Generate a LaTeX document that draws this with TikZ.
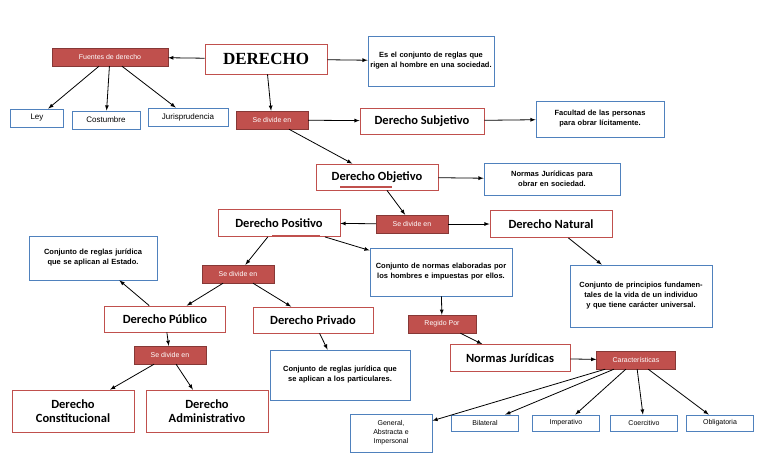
\documentclass[tikz,border=0pt]{standalone}
\usepackage{fontspec}
\setmainfont{Liberation Sans}
\newfontfamily\titlefont{Carlito}
\newfontfamily\serifbold{Liberation Serif}
\definecolor{boxred}{RGB}{192,80,77}
\definecolor{boxblue}{RGB}{79,129,189}
\tikzset{
	tag/.style={draw=boxred!70!black, fill=boxred, text=white, font=\fontsize{7}{8}\selectfont, inner sep=1pt, minimum height=18},
	title/.style={draw=boxred, thick, fill=white, font=\titlefont\bfseries\fontsize{12.5}{14}\selectfont, minimum height=26},
	note/.style={draw=boxblue, thick, fill=white, font=\fontsize{7.5}{10}\selectfont\bfseries, align=center, inner sep=2pt},
	leaf/.style={draw=boxblue, thick, fill=white, font=\fontsize{8}{9}\selectfont, minimum height=18},
	arr/.style={-latex, thick}
}
\begin{document}
\begin{tikzpicture}[x=1pt, y=-1pt]
	\useasboundingbox (0, 0) rectangle (768, 466);
	
	% top level
	\node[title, minimum width=122, minimum height=30, font=\serifbold\bfseries\fontsize{17}{18}\selectfont] (der) at (266, 59) {DERECHO};
	\node[tag, minimum width=116] (fuentes) at (110, 57) {Fuentes de derecho};
	\node[note, text width=122, minimum height=50] (def) at (431, 61) {Es el conjunto de reglas que rigen al hombre en una sociedad.};
	\node[leaf, minimum width=53] (ley) at (37, 118) {Ley};
	\node[leaf, minimum width=68] (cost) at (106, 120) {Costumbre};
	\node[leaf, minimum width=80] (juris) at (188, 117) {Jurisprudencia};
	
	\node[tag, minimum width=72] (div1) at (272, 120) {Se divide en};
	\node[title, minimum width=124] (subj) at (422, 121) {Derecho Subjetivo};
	\node[note, text width=124, minimum height=36] (fac) at (600, 119) {Facultad de las personas para obrar lícitamente.};
	\node[title, minimum width=122] (obj) at (377, 177) {Derecho Objetivo};
	\node[note, text width=132, minimum height=32] (nobr) at (552, 179) {Normas Jurídicas para obrar en sociedad.};
	
	\node[tag, minimum width=72] (div2) at (412, 224) {Se divide en};
	\node[title, minimum width=122, minimum height=27] (pos) at (279, 223) {Derecho Positivo};
	\node[title, minimum width=122, minimum height=27] (nat) at (551, 224) {Derecho Natural};
	\node[note, text width=124, minimum height=44] (est) at (93, 258) {Conjunto de reglas jurídica que se aplican al Estado.};
	\node[tag, minimum width=72] (div3) at (238, 274) {Se divide en};
	\node[note, text width=138, minimum height=48] (elab) at (441, 272) {Conjunto de normas elaboradas por los hombres e impuestas por ellos.};
	\node[note, text width=138, minimum height=62] (prin) at (641, 296) {Conjunto de principios fundamentales de la vida de un individuo y que tiene carácter universal.};
	
	\node[title, minimum width=121] (pub) at (165, 319) {Derecho Público};
	\node[title, minimum width=120] (priv) at (313, 320) {Derecho Privado};
	\node[tag, minimum width=68] (reg) at (442, 324) {Regido Por};
	\node[tag, minimum width=72] (div4) at (170, 355) {Se divide en};
	\node[note, text width=136, minimum height=50] (part) at (340, 375) {Conjunto de reglas jurídica que se aplican a los particulares.};
	\node[title, minimum width=120, minimum height=27] (nj) at (510, 358) {Normas Jurídicas};
	\node[tag, minimum width=79] (car) at (636, 360) {Características};
	
	\node[title, minimum width=122, minimum height=42, align=center] (const) at (73, 411) {Derecho\\Constitucional};
	\node[title, minimum width=122, minimum height=42, align=center] (adm) at (207, 411) {Derecho\\Administrativo};
	\node[leaf, minimum width=82, minimum height=38, align=center, font=\fontsize{7}{9}\selectfont] (gen) at (391, 433) {General,\\Abstracta e\\Impersonal};
	\node[leaf, minimum width=67, minimum height=16, font=\fontsize{7}{8}\selectfont] (bil) at (485, 423) {Bilateral};
	\node[leaf, minimum width=67, minimum height=16, font=\fontsize{7}{8}\selectfont] (imp) at (566, 423) {Imperativo};
	\node[leaf, minimum width=67, minimum height=16, font=\fontsize{7}{8}\selectfont] (coer) at (644, 423) {Coercitivo};
	\node[leaf, minimum width=67, minimum height=16, font=\fontsize{7}{8}\selectfont] (obl) at (720, 423) {Obligatoria};
	
	% red underlines
	\draw[boxred, very thick] (340, 187) -- (392, 187);
	\draw[boxred, very thick] (272, 236) -- (320, 236);
	
	% connectors
	\draw[arr] (der) -- (fuentes);
	\draw[arr] (der) -- (def);
	\draw[arr] (der) -- (div1);
	\draw[arr] (fuentes) -- (ley);
	\draw[arr] (fuentes) -- (cost);
	\draw[arr] (fuentes) -- (juris);
	\draw[arr] (div1) -- (subj);
	\draw[arr] (div1) -- (obj);
	\draw[arr] (subj) -- (fac);
	\draw[arr] (obj) -- (nobr);
	\draw[arr] (obj) -- (div2);
	\draw[arr] (div2) -- (pos);
	\draw[arr] (div2) -- (nat);
	\draw[arr] (nat) -- (prin);
	\draw[arr] (pos) -- (div3);
	\draw[arr] (pos) -- (elab);
	\draw[arr] (div3) -- (pub);
	\draw[arr] (div3) -- (priv);
	\draw[arr] (pub) -- (est);
	\draw[arr] (pub) -- (div4);
	\draw[arr] (div4) -- (const);
	\draw[arr] (div4) -- (adm);
	\draw[arr] (priv) -- (part);
	\draw[arr] (elab) -- (reg);
	\draw[arr] (reg) -- (nj);
	\draw[arr] (nj) -- (car);
	\foreach \k in {gen, bil, imp, coer, obl}
		\draw[arr] (car) -- (\k);
\end{tikzpicture}
\end{document}
